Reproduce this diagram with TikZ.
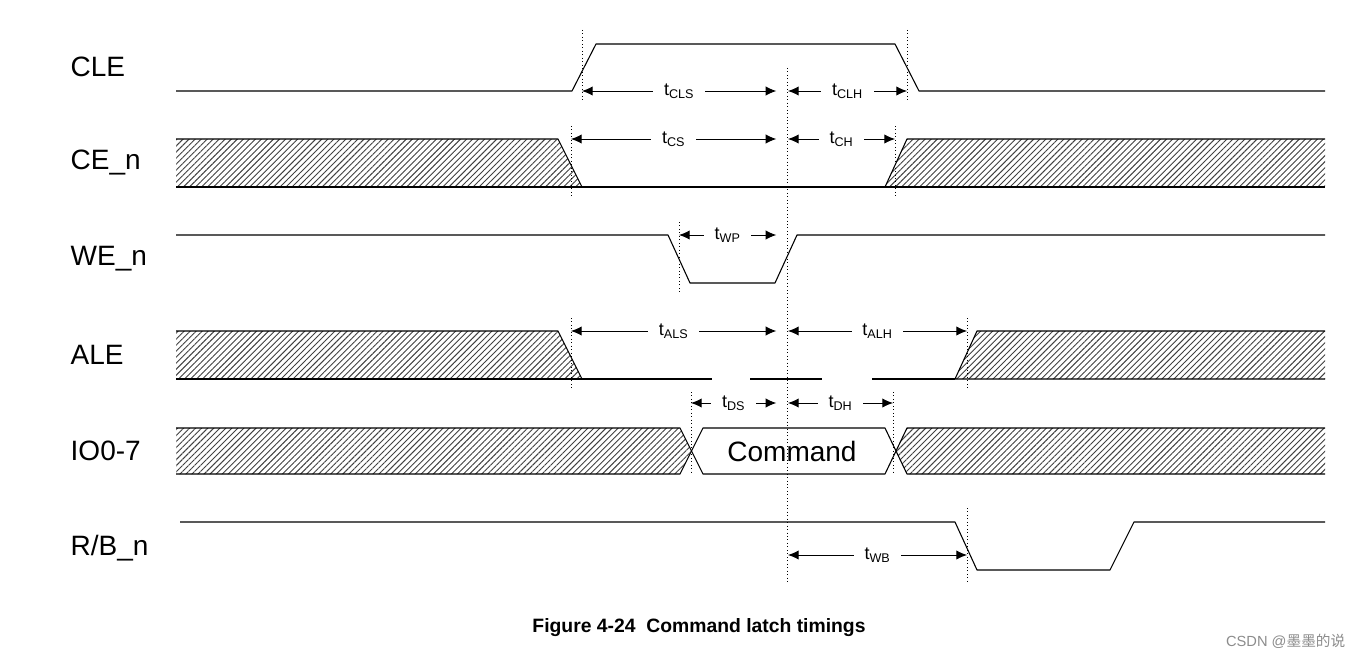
\documentclass[tikz,border=0pt]{standalone}
\usepackage{fontspec}
\setmainfont{Liberation Sans}
\newfontfamily\cjkf{Noto Sans CJK SC}
\usetikzlibrary{patterns.meta,arrows.meta}
\begin{document}
\begin{tikzpicture}[x=0.75pt,y=-0.75pt,
  sig/.style={line width=0.8pt,line join=round},
  hatch/.style={pattern={Lines[angle=45,distance=3.2pt,line width=0.7pt]},pattern color=black!75},
  dot/.style={dotted,line width=0.6pt},
  meas/.style={{Latex[length=8pt,width=7pt]}-{Latex[length=8pt,width=7pt]},line width=0.7pt},
  lab/.style={fill=white,inner xsep=8pt,inner ysep=1pt,font=\fontsize{13.5pt}{15pt}\selectfont},
  signame/.style={anchor=west,font=\fontsize{21pt}{24pt}\selectfont}]
\useasboundingbox (0,0) rectangle (1363,660);
% names
\node[signame] (nCLE) at (66,67) {CLE};
\node[signame] (nCE) at (66,163) {CE\_n};
\node[signame] (nWE) at (66,259) {WE\_n};
\node[signame] (nALE) at (66,355) {ALE};
\node[signame] (nIO) at (66,451) {IO0-7};
\node[signame] (nRB) at (66,548) {R/B\_n};
% hatches
\fill[hatch] (176,139)--(558,139)--(582,187)--(176,187)--cycle;
\fill[hatch] (907,139)--(1325,139)--(1325,187)--(885,187)--cycle;
\fill[hatch] (176,331)--(558,331)--(582,379)--(176,379)--cycle;
\fill[hatch] (977,331)--(1325,331)--(1325,379)--(955,379)--cycle;
\fill[hatch] (176,428)--(680,428)--(691,451)--(680,474)--(176,474)--cycle;
\fill[hatch] (907,428)--(1325,428)--(1325,474)--(907,474)--(896,451)--cycle;
% CLE
\draw[sig] (176,91)--(572,91)--(596,44)--(895,44)--(919,91)--(1325,91);
% CE_n
\draw[sig] (176,139)--(558,139)--(582,187);
\draw[sig] (176,187)--(1325,187);
\draw[sig] (885,187)--(907,139)--(1325,139);
% WE_n
\draw[sig] (176,235)--(668,235)--(690,283)--(775,283)--(797,235)--(1325,235);
% ALE
\draw[sig] (176,331)--(558,331)--(582,379);
\draw[sig] (176,379)--(712,379) (750,379)--(822,379) (872,379)--(955,379);
\draw[sig] (955,379)--(1325,379) (955,379)--(977,331)--(1325,331);
% IO
\draw[sig] (176,428)--(680,428)--(703,474)--(885,474)--(907,428)--(1325,428);
\draw[sig] (176,474)--(680,474)--(703,428)--(885,428)--(907,474)--(1325,474);
\node[font=\fontsize{21pt}{24pt}\selectfont] (cmd) at (792,451) {Command};
% R/B
\draw[sig] (180,522)--(955,522)--(977,570)--(1110,570)--(1134,522)--(1325,522);
% dotted guides
\coordinate (d1t) at (582,30); \coordinate (d1b) at (582,100);
\coordinate (d2t) at (907,30); \coordinate (d2b) at (907,100);
\coordinate (d3t) at (571,126); \coordinate (d3b) at (571,197);
\coordinate (d4t) at (895,126); \coordinate (d4b) at (895,197);
\coordinate (d5t) at (679,222); \coordinate (d5b) at (679,293);
\coordinate (d6t) at (571,318); \coordinate (d6b) at (571,389);
\coordinate (d7t) at (967,318); \coordinate (d7b) at (967,389);
\coordinate (d8t) at (691,392); \coordinate (d8b) at (691,474);
\coordinate (d9t) at (893,392); \coordinate (d9b) at (893,474);
\coordinate (d10t) at (967,508); \coordinate (d10b) at (967,582);
\coordinate (ct) at (787,68); \coordinate (cb) at (787,582);
\foreach \a in {d1,d2,d3,d4,d5,d6,d7,d8,d9,d10} \draw[dot] (\a t)--(\a b);
\draw[dot] (ct)--(cb);
% measurements
\coordinate (c1) at (787,91); \coordinate (c2) at (787,139); \coordinate (c3) at (787,235);
\coordinate (c4) at (787,331); \coordinate (c5) at (787,403); \coordinate (c6) at (787,555);
\coordinate (a1) at (582,91); \coordinate (a2) at (907,91);
\coordinate (a3) at (571,139); \coordinate (a4) at (895,139);
\coordinate (a5) at (679,235);
\coordinate (a6) at (571,331); \coordinate (a7) at (967,331);
\coordinate (a8) at (691,403); \coordinate (a9) at (893,403);
\coordinate (a10) at (967,555);
\tikzset{L/.style={xshift=-8pt},R/.style={xshift=0.75pt}}
\draw[meas] (a1)--node[lab]{t\textsubscript{CLS}}([L]c1);
\draw[meas] ([R]c1)--node[lab]{t\textsubscript{CLH}}(a2);
\draw[meas] (a3)--node[lab]{t\textsubscript{CS}}([L]c2);
\draw[meas] ([R]c2)--node[lab]{t\textsubscript{CH}}(a4);
\draw[meas] (a5)--node[lab]{t\textsubscript{WP}}([L]c3);
\draw[meas] (a6)--node[lab]{t\textsubscript{ALS}}([L]c4);
\draw[meas] ([R]c4)--node[lab]{t\textsubscript{ALH}}(a7);
\draw[meas] (a8)--node[lab]{t\textsubscript{DS}}([L]c5);
\draw[meas] ([R]c5)--node[lab]{t\textsubscript{DH}}(a9);
\draw[meas] ([R]c6)--node[lab]{t\textsubscript{WB}}(a10);
% caption
\node[font=\bfseries\fontsize{14.5pt}{17pt}\selectfont] (cap) at (699,628) {Figure 4-24\ \ Command latch timings};
\node[anchor=east,text=black!45,font=\fontsize{11pt}{13pt}\selectfont] (wm) at (1350,641) {CSDN @{\cjkf 墨墨的说}};
\end{tikzpicture}
\end{document}
